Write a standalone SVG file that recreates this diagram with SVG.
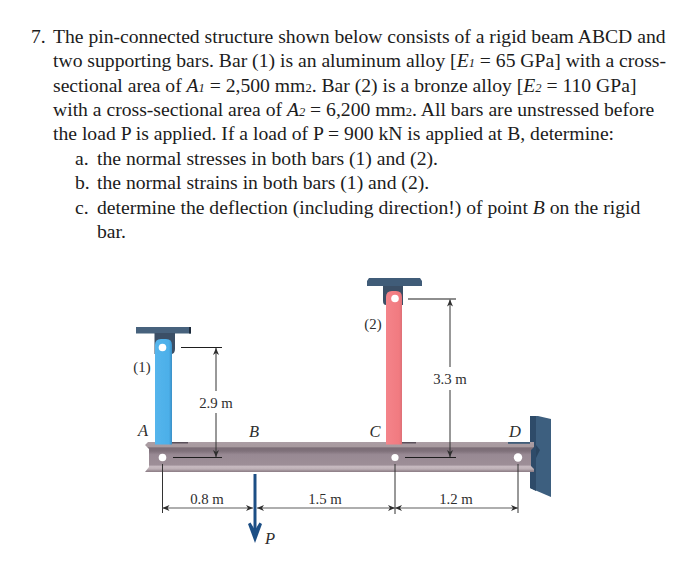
<svg xmlns="http://www.w3.org/2000/svg" width="700" height="580" viewBox="0 0 700 580">
<style>
.t{font-family:"Liberation Serif","Times New Roman",serif;font-size:19.65px;fill:#1c1c1c}
.l{font-family:"Liberation Serif","Times New Roman",serif;font-size:14.8px;fill:#2e2e2e;text-anchor:middle}
.i{font-style:italic}
.big{font-size:16.5px}
.s{font-size:12.5px}
.d{stroke:#5e5e5e;stroke-width:1.2;fill:none}
.e{stroke:#333;stroke-width:1;fill:none}
.dk{stroke:#1e1e1e;stroke-width:1.2;fill:none}
.pin{fill:#fff}
.soft{filter:url(#soft)}
</style>
<defs>
<filter id="soft" filterUnits="userSpaceOnUse" x="0" y="0" width="700" height="580"><feGaussianBlur stdDeviation="0.45"/></filter>
<linearGradient id="blue" x1="0" x2="1" y1="0" y2="0"><stop offset="0" stop-color="#55b5ec"/><stop offset=".82" stop-color="#4cafe9"/><stop offset="1" stop-color="#3a8fc6"/></linearGradient>
<linearGradient id="red" x1="0" x2="1" y1="0" y2="0"><stop offset="0" stop-color="#f4848a"/><stop offset=".82" stop-color="#f17a80"/><stop offset="1" stop-color="#dd7076"/></linearGradient>
<linearGradient id="beam" x1="0" x2="0" y1="0" y2="1">
<stop offset="0" stop-color="#ab9da4"/><stop offset=".15" stop-color="#a89a9f"/><stop offset=".2" stop-color="#7b6c76"/><stop offset=".3" stop-color="#7f707a"/><stop offset=".42" stop-color="#988993"/><stop offset=".76" stop-color="#9d8e97"/><stop offset=".82" stop-color="#c8bbc1"/><stop offset=".9" stop-color="#bdb0b6"/><stop offset=".95" stop-color="#a09299"/><stop offset="1" stop-color="#8a7b84"/>
</linearGradient>
<marker id="a" viewBox="0 0 7 7" refX="7" refY="3.500" markerWidth="7" markerHeight="7" orient="auto-start-reverse" markerUnits="userSpaceOnUse"><path d="M0 .5 L7 3.500 L0 6.500 L2 3.500Z" fill="#2e2e2e"/></marker>
</defs>

<g id="problem-text" class="t">
<text x="31" y="43">7.</text>
<text x="53" y="43">The pin-connected structure shown below consists of a rigid beam ABCD and</text>
<text x="53" y="67">two supporting bars. Bar (1) is an aluminum alloy [<tspan class="i">E</tspan><tspan class="i s">1</tspan> = 65 GPa] with a cross-</text>
<text x="53" y="92">sectional area of <tspan class="i">A</tspan><tspan class="i s">1</tspan> = 2,500 mm<tspan class="s">2</tspan>. Bar (2) is a bronze alloy [<tspan class="i">E</tspan><tspan class="i s">2</tspan> = 110 GPa]</text>
<text x="53" y="116">with a cross-sectional area of <tspan class="i">A</tspan><tspan class="i s">2</tspan> = 6,200 mm<tspan class="s">2</tspan>. All bars are unstressed before</text>
<text x="53" y="140">the load P is applied. If a load of P = 900 kN is applied at B, determine:</text>
<text x="75" y="165">a.</text><text x="97" y="165">the normal stresses in both bars (1) and (2).</text>
<text x="75" y="189">b.</text><text x="97" y="189">the normal strains in both bars (1) and (2).</text>
<text x="75" y="214">c.</text><text x="97" y="214">determine the deflection (including direction!) of point <tspan class="i">B</tspan> on the rigid</text>
<text x="97" y="238">bar.</text>
</g>

<g id="wall-D" class="soft">
<path d="M530 416 L538 416 L551 419 L551 497 L530 488Z" fill="#3d5f7f"/>
<path d="M530 416 L536 416 L536 491 L530 488Z" fill="#2f4c69"/>
<path d="M536 445 L540 450 L536 458Z" fill="#2a4560"/>
</g>

<g id="beam-ABCD" class="soft">
<path d="M145 445 L148 442 L534 442 L534 447 L531 450 L531 466 L534 469 L534 472 L145 472 L149 467 L149 449Z" fill="url(#beam)"/>
<rect x="172" y="442" width="16" height="1.500" fill="#5a505a"/>
<rect x="402" y="442" width="14" height="1.500" fill="#5a505a"/>
<rect x="508" y="442" width="22" height="1.800" fill="#3f5b78"/>
</g>

<g id="bar-1">
<g class="soft">
<rect x="136" y="327" width="55" height="6.500" fill="#46627d"/>
<rect x="189" y="327" width="2" height="6.500" fill="#1d2c3b"/>
<path d="M154.500 333 L175 333 L175 349 Q175 354 171 354 L154.500 354Z" fill="#3a4f66"/>
<path d="M155 345 Q155 339 161 339 L166 339 Q172 339 172 345 L172 444.500 L155 444.500Z" fill="url(#blue)"/>
</g>
<circle class="pin soft" cx="162.500" cy="347.500" r="3.800"/>
</g>

<g id="bar-2">
<g class="soft">
<path d="M369 278 L420 278 L422 281 L422 286 L367 286 L367 281Z" fill="#3f5b78"/>
<path d="M383 286 L403 286 L403 305 L386 305 Q383 305 383 301Z" fill="#3a4f66"/>
<path d="M386 297 Q386 291 392 291 L396 291 Q402 291 402 297 L402 444.500 L386 444.500Z" fill="url(#red)"/>
</g>
<circle class="pin soft" cx="395" cy="298.500" r="3.800"/>
</g>

<g id="pin-A"><circle class="pin soft" cx="162.500" cy="457.500" r="3.800"/></g>
<g id="pin-C"><circle class="pin soft" cx="395" cy="457.500" r="3.600"/></g>
<g id="pin-D"><circle class="pin soft" cx="518" cy="457.500" r="4.200"/></g>

<g id="connectors">
<path class="dk" d="M181 347.500 H222 M173 457.500 H222 M408 299 H456 M405 457.500 H456"/>
<path class="e" d="M216 391 V348" marker-end="url(#a)"/>
<path class="e" d="M216 413 V457" marker-end="url(#a)"/>
<path class="e" d="M450 367 V299.500" marker-end="url(#a)"/>
<path class="e" d="M450 390 V457" marker-end="url(#a)"/>
<path class="e" d="M162.500 464 V513 M395 464 V514 M518 464 V513"/>
<path class="d" d="M162.500 508 H253" marker-start="url(#a)" marker-end="url(#a)"/>
<path class="d" d="M257 508 H395" marker-start="url(#a)" marker-end="url(#a)"/>
<path class="d" d="M395 508 H518" marker-start="url(#a)" marker-end="url(#a)"/>
<path class="soft" d="M255 474 V536" fill="none" stroke="#1f4f85" stroke-width="3"/>
<path class="soft" d="M248 524 L250.500 522.500 L255 530 L259.500 522.500 L262 524 L255 543Z" fill="#1f4f85"/>
</g>

<g id="labels">
<text class="l" x="142" y="372">(1)</text>
<text class="l" x="373" y="329">(2)</text>
<text class="l i big" x="143" y="436">A</text>
<text class="l i big" x="254" y="437">B</text>
<text class="l i big" x="375" y="437">C</text>
<text class="l i big" x="515" y="437">D</text>
<text class="l i big" x="270" y="544">P</text>
<text class="l" x="216" y="408">2.9 m</text>
<text class="l" x="450" y="384">3.3 m</text>
<text class="l" x="207" y="504">0.8 m</text>
<text class="l" x="325" y="504">1.5 m</text>
<text class="l" x="456" y="504">1.2 m</text>
</g>
</svg>
